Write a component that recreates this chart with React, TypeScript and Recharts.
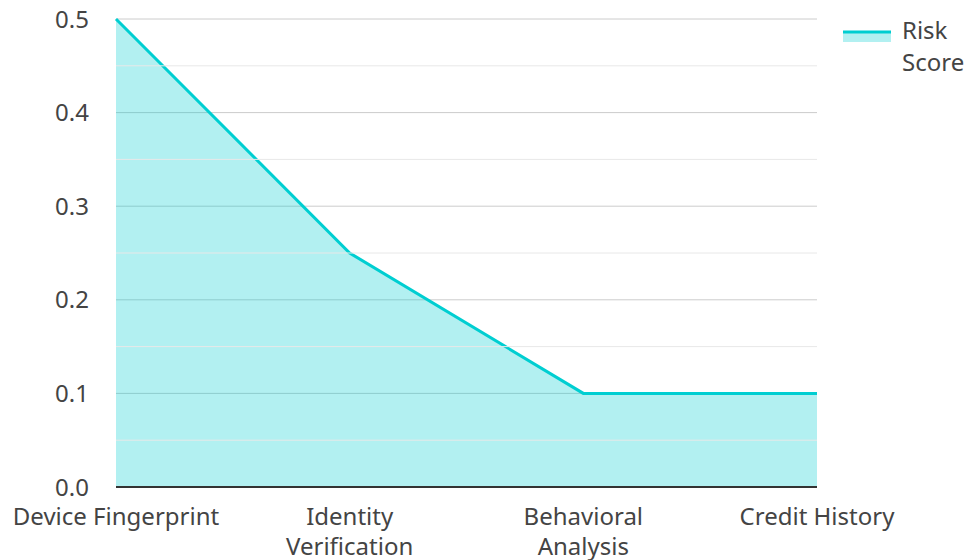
import React from 'react';
import {
    AreaChart,
    Area,
    XAxis,
    YAxis,
    CartesianGrid,
    ReferenceLine,
} from 'recharts';

const categories = ['Device Fingerprint', 'Identity Verification', 'Behavioral Analysis', 'Credit History'];
const riskScore = [0.5, 0.25, 0.1, 0.1];
const yTicks = [0, 0.1, 0.2, 0.3, 0.4, 0.5];
const minorTicks = [0.05, 0.15, 0.25, 0.35, 0.45];

const data = categories.map((name, i) => ({ name, risk: riskScore[i] }));

const FONT = '"Noto Sans", "Open Sans", sans-serif';
const LINE = '#00CED1';
const TEXT = '#444';

function XTick(props: any) {
    const { x, y, payload } = props;
    const label: string = payload.value;
    let lines = [label];
    if (label.length > 18) {
        const idx = label.lastIndexOf(' ');
        lines = [label.slice(0, idx), label.slice(idx + 1)];
    }
    return (
        <text x={x} y={y} textAnchor="middle" fill={TEXT} fontSize={24} fontFamily={FONT}>
            {lines.map((l, i) => (
                <tspan key={i} x={x} dy={i === 0 ? 36 : 30}>
                    {l}
                </tspan>
            ))}
        </text>
    );
}

function LegendBox() {
    return (
        <div
            style={{
                position: 'absolute',
                left: 843,
                top: 14,
                display: 'flex',
                fontFamily: FONT,
                fontSize: 24,
                color: TEXT,
            }}
        >
            <svg width={48} height={16} style={{ marginTop: 14, marginRight: 11 }}>
                <rect x={0} y={4} width={48} height={10} fill={LINE} fillOpacity={0.3} />
                <line x1={0} y1={4} x2={48} y2={4} stroke={LINE} strokeWidth={3} />
            </svg>
            <div style={{ lineHeight: '32px' }}>
                Risk
                <br />
                Score
            </div>
        </div>
    );
}

export default function App() {
    return (
        <div style={{ position: 'absolute', left: 0, top: 0, width: 967, height: 560 }}>
            <AreaChart
                width={967}
                height={560}
                data={data}
                margin={{ top: 19, right: 150, bottom: 0, left: 0 }}
            >
                <CartesianGrid stroke="#ccc" vertical={false} />
                {minorTicks.map((t) => (
                    <ReferenceLine key={t} y={t} stroke="#e8e8e8" />
                ))}
                <XAxis
                    dataKey="name"
                    tick={<XTick />}
                    tickLine={false}
                    tickSize={0}
                    stroke="#333"
                    strokeWidth={2}
                    interval={0}
                    height={73}
                />
                <YAxis
                    width={116}
                    domain={[0, 0.5]}
                    ticks={yTicks}
                    tickFormatter={(v: number) => v.toFixed(1)}
                    axisLine={false}
                    tickLine={false}
                    tickSize={0}
                    tickMargin={27}
                    tick={{ fontSize: 24, fill: TEXT, fontFamily: FONT }}
                />
                <Area
                    type="linear"
                    dataKey="risk"
                    name="Risk Score"
                    stroke={LINE}
                    strokeWidth={3}
                    fill={LINE}
                    fillOpacity={0.3}
                    isAnimationActive={false}
                    dot={false}
                    activeDot={false}
                />
            </AreaChart>
            <LegendBox />
        </div>
    );
}
